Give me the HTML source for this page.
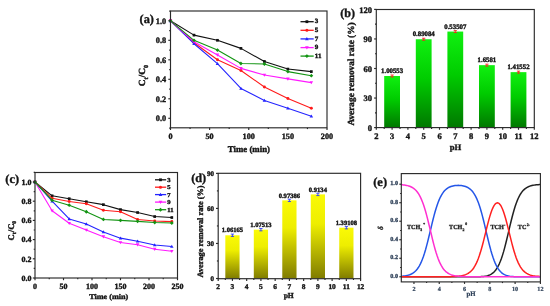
<!DOCTYPE html>
<html><head><meta charset="utf-8"><style>
html,body{margin:0;padding:0;background:#fff;}
svg{display:block;font-family:"Liberation Serif", serif;will-change:transform;text-rendering:geometricPrecision;}
</style></head><body>
<svg width="550" height="306" viewBox="0 0 550 306">
<defs>
<linearGradient id="gG" x1="0" y1="0" x2="0" y2="1"><stop offset="0" stop-color="#10f010"/><stop offset="0.45" stop-color="#00cc00"/><stop offset="1" stop-color="#007800"/></linearGradient>
<linearGradient id="gY" x1="0" y1="0" x2="0" y2="1"><stop offset="0" stop-color="#fafa06"/><stop offset="0.35" stop-color="#eeee00"/><stop offset="1" stop-color="#807c00"/></linearGradient>
</defs>
<rect width="550" height="306" fill="#fff"/>
<polyline points="170.50,20.80 193.97,35.13 217.45,40.30 240.93,48.39 264.40,61.46 287.88,69.06 311.35,71.60" fill="none" stroke="#111" stroke-width="1.1" stroke-linejoin="round"/>
<rect x="169.15" y="19.45" width="2.70" height="2.70" fill="#111"/>
<rect x="192.62" y="33.78" width="2.70" height="2.70" fill="#111"/>
<rect x="216.10" y="38.95" width="2.70" height="2.70" fill="#111"/>
<rect x="239.58" y="47.04" width="2.70" height="2.70" fill="#111"/>
<rect x="263.05" y="60.11" width="2.70" height="2.70" fill="#111"/>
<rect x="286.52" y="67.71" width="2.70" height="2.70" fill="#111"/>
<rect x="310.00" y="70.25" width="2.70" height="2.70" fill="#111"/>
<polyline points="170.50,20.80 193.97,42.74 217.45,59.80 240.93,70.53 264.40,87.00 287.88,98.51 311.35,108.26" fill="none" stroke="#ff1a1a" stroke-width="1.1" stroke-linejoin="round"/>
<circle cx="170.50" cy="20.80" r="1.49" fill="#ff1a1a"/>
<circle cx="193.97" cy="42.74" r="1.49" fill="#ff1a1a"/>
<circle cx="217.45" cy="59.80" r="1.49" fill="#ff1a1a"/>
<circle cx="240.93" cy="70.53" r="1.49" fill="#ff1a1a"/>
<circle cx="264.40" cy="87.00" r="1.49" fill="#ff1a1a"/>
<circle cx="287.88" cy="98.51" r="1.49" fill="#ff1a1a"/>
<circle cx="311.35" cy="108.26" r="1.49" fill="#ff1a1a"/>
<polyline points="170.50,20.80 193.97,43.71 217.45,63.70 240.93,88.47 264.40,100.46 287.88,108.26 311.35,116.16" fill="none" stroke="#2424ff" stroke-width="1.1" stroke-linejoin="round"/>
<polygon points="170.50,19.04 168.75,22.15 172.25,22.15" fill="#2424ff"/>
<polygon points="193.97,41.96 192.22,45.06 195.73,45.06" fill="#2424ff"/>
<polygon points="217.45,61.94 215.69,65.05 219.20,65.05" fill="#2424ff"/>
<polygon points="240.93,86.71 239.17,89.81 242.68,89.81" fill="#2424ff"/>
<polygon points="264.40,98.70 262.64,101.81 266.15,101.81" fill="#2424ff"/>
<polygon points="287.88,106.50 286.12,109.61 289.63,109.61" fill="#2424ff"/>
<polygon points="311.35,114.40 309.60,117.50 313.11,117.50" fill="#2424ff"/>
<polyline points="170.50,20.80 193.97,41.76 217.45,54.92 240.93,68.38 264.40,75.01 287.88,78.91 311.35,82.61" fill="none" stroke="#ff1aff" stroke-width="1.1" stroke-linejoin="round"/>
<polygon points="170.50,22.55 168.75,19.45 172.25,19.45" fill="#ff1aff"/>
<polygon points="193.97,43.52 192.22,40.41 195.73,40.41" fill="#ff1aff"/>
<polygon points="217.45,56.68 215.69,53.57 219.20,53.57" fill="#ff1aff"/>
<polygon points="240.93,70.13 239.17,67.03 242.68,67.03" fill="#ff1aff"/>
<polygon points="264.40,76.76 262.64,73.66 266.15,73.66" fill="#ff1aff"/>
<polygon points="287.88,80.66 286.12,77.56 289.63,77.56" fill="#ff1aff"/>
<polygon points="311.35,84.37 309.60,81.27 313.11,81.27" fill="#ff1aff"/>
<polyline points="170.50,20.80 193.97,40.30 217.45,50.05 240.93,63.50 264.40,63.99 287.88,71.60 311.35,75.69" fill="none" stroke="#129412" stroke-width="1.1" stroke-linejoin="round"/>
<polygon points="170.50,18.91 168.61,20.80 170.50,22.69 172.39,20.80" fill="#129412"/>
<polygon points="193.97,38.41 192.09,40.30 193.97,42.19 195.86,40.30" fill="#129412"/>
<polygon points="217.45,48.16 215.56,50.05 217.45,51.94 219.34,50.05" fill="#129412"/>
<polygon points="240.93,61.61 239.04,63.50 240.93,65.39 242.81,63.50" fill="#129412"/>
<polygon points="264.40,62.10 262.51,63.99 264.40,65.88 266.29,63.99" fill="#129412"/>
<polygon points="287.88,69.71 285.99,71.60 287.88,73.49 289.76,71.60" fill="#129412"/>
<polygon points="311.35,73.80 309.46,75.69 311.35,77.58 313.24,75.69" fill="#129412"/>
<rect x="170.50" y="11.00" width="156.50" height="116.80" fill="none" stroke="#2a2a2a" stroke-width="1.15"/>
<line x1="168.30" y1="118.30" x2="170.50" y2="118.30" stroke="#2a2a2a" stroke-width="1.15" />
<text x="166.20" y="121.20" font-size="8.3" text-anchor="end" fill="#151515" font-weight="bold" stroke="#151515" stroke-width="0.38" >0.0</text>
<line x1="168.30" y1="98.80" x2="170.50" y2="98.80" stroke="#2a2a2a" stroke-width="1.15" />
<text x="166.20" y="101.70" font-size="8.3" text-anchor="end" fill="#151515" font-weight="bold" stroke="#151515" stroke-width="0.38" >0.2</text>
<line x1="168.30" y1="79.30" x2="170.50" y2="79.30" stroke="#2a2a2a" stroke-width="1.15" />
<text x="166.20" y="82.20" font-size="8.3" text-anchor="end" fill="#151515" font-weight="bold" stroke="#151515" stroke-width="0.38" >0.4</text>
<line x1="168.30" y1="59.80" x2="170.50" y2="59.80" stroke="#2a2a2a" stroke-width="1.15" />
<text x="166.20" y="62.70" font-size="8.3" text-anchor="end" fill="#151515" font-weight="bold" stroke="#151515" stroke-width="0.38" >0.6</text>
<line x1="168.30" y1="40.30" x2="170.50" y2="40.30" stroke="#2a2a2a" stroke-width="1.15" />
<text x="166.20" y="43.20" font-size="8.3" text-anchor="end" fill="#151515" font-weight="bold" stroke="#151515" stroke-width="0.38" >0.8</text>
<line x1="168.30" y1="20.80" x2="170.50" y2="20.80" stroke="#2a2a2a" stroke-width="1.15" />
<text x="166.20" y="23.70" font-size="8.3" text-anchor="end" fill="#151515" font-weight="bold" stroke="#151515" stroke-width="0.38" >1.0</text>
<line x1="169.20" y1="128.05" x2="170.50" y2="128.05" stroke="#2a2a2a" stroke-width="1.15" />
<line x1="169.20" y1="108.55" x2="170.50" y2="108.55" stroke="#2a2a2a" stroke-width="1.15" />
<line x1="169.20" y1="89.05" x2="170.50" y2="89.05" stroke="#2a2a2a" stroke-width="1.15" />
<line x1="169.20" y1="69.55" x2="170.50" y2="69.55" stroke="#2a2a2a" stroke-width="1.15" />
<line x1="169.20" y1="50.05" x2="170.50" y2="50.05" stroke="#2a2a2a" stroke-width="1.15" />
<line x1="169.20" y1="30.55" x2="170.50" y2="30.55" stroke="#2a2a2a" stroke-width="1.15" />
<line x1="169.20" y1="11.05" x2="170.50" y2="11.05" stroke="#2a2a2a" stroke-width="1.15" />
<line x1="170.50" y1="127.80" x2="170.50" y2="130.00" stroke="#2a2a2a" stroke-width="1.15" />
<text x="170.50" y="138.80" font-size="8.2" text-anchor="middle" fill="#151515" font-weight="bold" stroke="#151515" stroke-width="0.38" >0</text>
<line x1="209.62" y1="127.80" x2="209.62" y2="130.00" stroke="#2a2a2a" stroke-width="1.15" />
<text x="209.62" y="138.80" font-size="8.2" text-anchor="middle" fill="#151515" font-weight="bold" stroke="#151515" stroke-width="0.38" >50</text>
<line x1="248.75" y1="127.80" x2="248.75" y2="130.00" stroke="#2a2a2a" stroke-width="1.15" />
<text x="248.75" y="138.80" font-size="8.2" text-anchor="middle" fill="#151515" font-weight="bold" stroke="#151515" stroke-width="0.38" >100</text>
<line x1="287.88" y1="127.80" x2="287.88" y2="130.00" stroke="#2a2a2a" stroke-width="1.15" />
<text x="287.88" y="138.80" font-size="8.2" text-anchor="middle" fill="#151515" font-weight="bold" stroke="#151515" stroke-width="0.38" >150</text>
<line x1="327.00" y1="127.80" x2="327.00" y2="130.00" stroke="#2a2a2a" stroke-width="1.15" />
<text x="327.00" y="138.80" font-size="8.2" text-anchor="middle" fill="#151515" font-weight="bold" stroke="#151515" stroke-width="0.38" >200</text>
<line x1="190.06" y1="127.80" x2="190.06" y2="129.10" stroke="#2a2a2a" stroke-width="1.15" />
<line x1="229.19" y1="127.80" x2="229.19" y2="129.10" stroke="#2a2a2a" stroke-width="1.15" />
<line x1="268.31" y1="127.80" x2="268.31" y2="129.10" stroke="#2a2a2a" stroke-width="1.15" />
<line x1="307.44" y1="127.80" x2="307.44" y2="129.10" stroke="#2a2a2a" stroke-width="1.15" />
<text x="139.60" y="22.60" font-size="12.3" text-anchor="start" fill="#151515" font-weight="bold" stroke="#151515" stroke-width="0.35" >(a)</text>
<text x="248.90" y="152.00" font-size="8.8" text-anchor="middle" fill="#151515" font-weight="bold" stroke="#151515" stroke-width="0.38" >Time (min)</text>
<text transform="translate(144.90,75.60) rotate(-90)" font-size="9.4" text-anchor="middle" font-weight="bold" fill="#151515" stroke="#151515" stroke-width="0.38">C<tspan font-size="6.2" dy="2.63">t</tspan><tspan dy="-2.63">/C</tspan><tspan font-size="6.2" dy="2.63">0</tspan></text>
<line x1="300.50" y1="21.70" x2="313.70" y2="21.70" stroke="#111" stroke-width="1.3" />
<rect x="305.50" y="20.30" width="2.80" height="2.80" fill="#111"/>
<g transform="translate(314.80,23.40) scale(1.1,1)"><text x="0" y="0" font-size="6.4" text-anchor="start" fill="#151515" font-weight="bold" stroke="#151515" stroke-width="0.38" >3</text></g>
<line x1="300.50" y1="30.30" x2="313.70" y2="30.30" stroke="#ff1a1a" stroke-width="1.3" />
<circle cx="306.90" cy="30.30" r="1.54" fill="#ff1a1a"/>
<g transform="translate(314.80,32.00) scale(1.1,1)"><text x="0" y="0" font-size="6.4" text-anchor="start" fill="#151515" font-weight="bold" stroke="#151515" stroke-width="0.38" >5</text></g>
<line x1="300.50" y1="38.90" x2="313.70" y2="38.90" stroke="#2424ff" stroke-width="1.3" />
<polygon points="306.90,37.08 305.08,40.30 308.72,40.30" fill="#2424ff"/>
<g transform="translate(314.80,40.60) scale(1.1,1)"><text x="0" y="0" font-size="6.4" text-anchor="start" fill="#151515" font-weight="bold" stroke="#151515" stroke-width="0.38" >7</text></g>
<line x1="300.50" y1="47.60" x2="313.70" y2="47.60" stroke="#ff1aff" stroke-width="1.3" />
<polygon points="306.90,49.42 305.08,46.20 308.72,46.20" fill="#ff1aff"/>
<g transform="translate(314.80,49.30) scale(1.1,1)"><text x="0" y="0" font-size="6.4" text-anchor="start" fill="#151515" font-weight="bold" stroke="#151515" stroke-width="0.38" >9</text></g>
<line x1="300.50" y1="56.10" x2="313.70" y2="56.10" stroke="#129412" stroke-width="1.3" />
<polygon points="306.90,54.14 304.94,56.10 306.90,58.06 308.86,56.10" fill="#129412"/>
<g transform="translate(314.80,57.80) scale(1.1,1)"><text x="0" y="0" font-size="6.4" text-anchor="start" fill="#151515" font-weight="bold" stroke="#151515" stroke-width="0.38" >11</text></g>
<polyline points="35.00,182.00 52.10,195.82 69.20,198.70 86.30,201.78 103.40,204.66 120.50,209.60 137.60,212.53 154.70,216.56 171.80,217.52" fill="none" stroke="#111" stroke-width="1.1" stroke-linejoin="round"/>
<rect x="33.65" y="180.65" width="2.70" height="2.70" fill="#111"/>
<rect x="50.75" y="194.47" width="2.70" height="2.70" fill="#111"/>
<rect x="67.85" y="197.35" width="2.70" height="2.70" fill="#111"/>
<rect x="84.95" y="200.43" width="2.70" height="2.70" fill="#111"/>
<rect x="102.05" y="203.31" width="2.70" height="2.70" fill="#111"/>
<rect x="119.15" y="208.25" width="2.70" height="2.70" fill="#111"/>
<rect x="136.25" y="211.18" width="2.70" height="2.70" fill="#111"/>
<rect x="153.35" y="215.21" width="2.70" height="2.70" fill="#111"/>
<rect x="170.45" y="216.17" width="2.70" height="2.70" fill="#111"/>
<polyline points="35.00,182.00 52.10,198.32 69.20,201.49 86.30,203.70 103.40,210.22 120.50,211.76 137.60,219.44 154.70,220.98 171.80,221.60" fill="none" stroke="#ff1a1a" stroke-width="1.1" stroke-linejoin="round"/>
<circle cx="35.00" cy="182.00" r="1.49" fill="#ff1a1a"/>
<circle cx="52.10" cy="198.32" r="1.49" fill="#ff1a1a"/>
<circle cx="69.20" cy="201.49" r="1.49" fill="#ff1a1a"/>
<circle cx="86.30" cy="203.70" r="1.49" fill="#ff1a1a"/>
<circle cx="103.40" cy="210.22" r="1.49" fill="#ff1a1a"/>
<circle cx="120.50" cy="211.76" r="1.49" fill="#ff1a1a"/>
<circle cx="137.60" cy="219.44" r="1.49" fill="#ff1a1a"/>
<circle cx="154.70" cy="220.98" r="1.49" fill="#ff1a1a"/>
<circle cx="171.80" cy="221.60" r="1.49" fill="#ff1a1a"/>
<polyline points="35.00,182.00 52.10,201.20 69.20,218.96 86.30,224.00 103.40,231.92 120.50,238.16 137.60,241.23 154.70,244.98 171.80,246.51" fill="none" stroke="#2424ff" stroke-width="1.1" stroke-linejoin="round"/>
<polygon points="35.00,180.25 33.24,183.35 36.76,183.35" fill="#2424ff"/>
<polygon points="52.10,199.44 50.34,202.55 53.86,202.55" fill="#2424ff"/>
<polygon points="69.20,217.21 67.45,220.31 70.95,220.31" fill="#2424ff"/>
<polygon points="86.30,222.25 84.55,225.35 88.05,225.35" fill="#2424ff"/>
<polygon points="103.40,230.17 101.65,233.27 105.16,233.27" fill="#2424ff"/>
<polygon points="120.50,236.41 118.75,239.51 122.25,239.51" fill="#2424ff"/>
<polygon points="137.60,239.48 135.84,242.58 139.35,242.58" fill="#2424ff"/>
<polygon points="154.70,243.22 152.94,246.33 156.45,246.33" fill="#2424ff"/>
<polygon points="171.80,244.76 170.05,247.86 173.56,247.86" fill="#2424ff"/>
<polyline points="35.00,182.00 52.10,210.80 69.20,223.28 86.30,230.00 103.40,236.72 120.50,242.48 137.60,244.69 154.70,249.20 171.80,251.31" fill="none" stroke="#ff1aff" stroke-width="1.1" stroke-linejoin="round"/>
<polygon points="35.00,183.75 33.24,180.65 36.76,180.65" fill="#ff1aff"/>
<polygon points="52.10,212.56 50.34,209.45 53.86,209.45" fill="#ff1aff"/>
<polygon points="69.20,225.03 67.45,221.93 70.95,221.93" fill="#ff1aff"/>
<polygon points="86.30,231.75 84.55,228.65 88.05,228.65" fill="#ff1aff"/>
<polygon points="103.40,238.47 101.65,235.37 105.16,235.37" fill="#ff1aff"/>
<polygon points="120.50,244.24 118.75,241.13 122.25,241.13" fill="#ff1aff"/>
<polygon points="137.60,246.44 135.84,243.34 139.35,243.34" fill="#ff1aff"/>
<polygon points="154.70,250.95 152.94,247.85 156.45,247.85" fill="#ff1aff"/>
<polygon points="171.80,253.07 170.05,249.96 173.56,249.96" fill="#ff1aff"/>
<polyline points="35.00,182.00 52.10,200.24 69.20,205.23 86.30,211.76 103.40,219.44 120.50,220.40 137.60,221.36 154.70,222.51 171.80,222.99" fill="none" stroke="#129412" stroke-width="1.1" stroke-linejoin="round"/>
<polygon points="35.00,180.11 33.11,182.00 35.00,183.89 36.89,182.00" fill="#129412"/>
<polygon points="52.10,198.35 50.21,200.24 52.10,202.13 53.99,200.24" fill="#129412"/>
<polygon points="69.20,203.34 67.31,205.23 69.20,207.12 71.09,205.23" fill="#129412"/>
<polygon points="86.30,209.87 84.41,211.76 86.30,213.65 88.19,211.76" fill="#129412"/>
<polygon points="103.40,217.55 101.51,219.44 103.40,221.33 105.29,219.44" fill="#129412"/>
<polygon points="120.50,218.51 118.61,220.40 120.50,222.29 122.39,220.40" fill="#129412"/>
<polygon points="137.60,219.47 135.71,221.36 137.60,223.25 139.49,221.36" fill="#129412"/>
<polygon points="154.70,220.62 152.81,222.51 154.70,224.40 156.59,222.51" fill="#129412"/>
<polygon points="171.80,221.10 169.91,222.99 171.80,224.88 173.69,222.99" fill="#129412"/>
<rect x="35.00" y="172.50" width="142.50" height="105.50" fill="none" stroke="#2a2a2a" stroke-width="1.15"/>
<line x1="32.80" y1="278.00" x2="35.00" y2="278.00" stroke="#2a2a2a" stroke-width="1.15" />
<text x="31.40" y="280.80" font-size="8.0" text-anchor="end" fill="#151515" font-weight="bold" stroke="#151515" stroke-width="0.38" >0.0</text>
<line x1="32.80" y1="258.80" x2="35.00" y2="258.80" stroke="#2a2a2a" stroke-width="1.15" />
<text x="31.40" y="261.60" font-size="8.0" text-anchor="end" fill="#151515" font-weight="bold" stroke="#151515" stroke-width="0.38" >0.2</text>
<line x1="32.80" y1="239.60" x2="35.00" y2="239.60" stroke="#2a2a2a" stroke-width="1.15" />
<text x="31.40" y="242.40" font-size="8.0" text-anchor="end" fill="#151515" font-weight="bold" stroke="#151515" stroke-width="0.38" >0.4</text>
<line x1="32.80" y1="220.40" x2="35.00" y2="220.40" stroke="#2a2a2a" stroke-width="1.15" />
<text x="31.40" y="223.20" font-size="8.0" text-anchor="end" fill="#151515" font-weight="bold" stroke="#151515" stroke-width="0.38" >0.6</text>
<line x1="32.80" y1="201.20" x2="35.00" y2="201.20" stroke="#2a2a2a" stroke-width="1.15" />
<text x="31.40" y="204.00" font-size="8.0" text-anchor="end" fill="#151515" font-weight="bold" stroke="#151515" stroke-width="0.38" >0.8</text>
<line x1="32.80" y1="182.00" x2="35.00" y2="182.00" stroke="#2a2a2a" stroke-width="1.15" />
<text x="31.40" y="184.80" font-size="8.0" text-anchor="end" fill="#151515" font-weight="bold" stroke="#151515" stroke-width="0.38" >1.0</text>
<line x1="33.70" y1="268.40" x2="35.00" y2="268.40" stroke="#2a2a2a" stroke-width="1.15" />
<line x1="33.70" y1="249.20" x2="35.00" y2="249.20" stroke="#2a2a2a" stroke-width="1.15" />
<line x1="33.70" y1="230.00" x2="35.00" y2="230.00" stroke="#2a2a2a" stroke-width="1.15" />
<line x1="33.70" y1="210.80" x2="35.00" y2="210.80" stroke="#2a2a2a" stroke-width="1.15" />
<line x1="33.70" y1="191.60" x2="35.00" y2="191.60" stroke="#2a2a2a" stroke-width="1.15" />
<line x1="33.70" y1="172.40" x2="35.00" y2="172.40" stroke="#2a2a2a" stroke-width="1.15" />
<line x1="35.00" y1="278.00" x2="35.00" y2="280.20" stroke="#2a2a2a" stroke-width="1.15" />
<text x="35.00" y="288.70" font-size="8.0" text-anchor="middle" fill="#151515" font-weight="bold" stroke="#151515" stroke-width="0.38" >0</text>
<line x1="63.50" y1="278.00" x2="63.50" y2="280.20" stroke="#2a2a2a" stroke-width="1.15" />
<text x="63.50" y="288.70" font-size="8.0" text-anchor="middle" fill="#151515" font-weight="bold" stroke="#151515" stroke-width="0.38" >50</text>
<line x1="92.00" y1="278.00" x2="92.00" y2="280.20" stroke="#2a2a2a" stroke-width="1.15" />
<text x="92.00" y="288.70" font-size="8.0" text-anchor="middle" fill="#151515" font-weight="bold" stroke="#151515" stroke-width="0.38" >100</text>
<line x1="120.50" y1="278.00" x2="120.50" y2="280.20" stroke="#2a2a2a" stroke-width="1.15" />
<text x="120.50" y="288.70" font-size="8.0" text-anchor="middle" fill="#151515" font-weight="bold" stroke="#151515" stroke-width="0.38" >150</text>
<line x1="149.00" y1="278.00" x2="149.00" y2="280.20" stroke="#2a2a2a" stroke-width="1.15" />
<text x="149.00" y="288.70" font-size="8.0" text-anchor="middle" fill="#151515" font-weight="bold" stroke="#151515" stroke-width="0.38" >200</text>
<line x1="177.50" y1="278.00" x2="177.50" y2="280.20" stroke="#2a2a2a" stroke-width="1.15" />
<text x="177.50" y="288.70" font-size="8.0" text-anchor="middle" fill="#151515" font-weight="bold" stroke="#151515" stroke-width="0.38" >250</text>
<line x1="49.25" y1="278.00" x2="49.25" y2="279.30" stroke="#2a2a2a" stroke-width="1.15" />
<line x1="77.75" y1="278.00" x2="77.75" y2="279.30" stroke="#2a2a2a" stroke-width="1.15" />
<line x1="106.25" y1="278.00" x2="106.25" y2="279.30" stroke="#2a2a2a" stroke-width="1.15" />
<line x1="134.75" y1="278.00" x2="134.75" y2="279.30" stroke="#2a2a2a" stroke-width="1.15" />
<line x1="163.25" y1="278.00" x2="163.25" y2="279.30" stroke="#2a2a2a" stroke-width="1.15" />
<text x="5.30" y="182.60" font-size="12.4" text-anchor="start" fill="#151515" font-weight="bold" stroke="#151515" stroke-width="0.35" >(c)</text>
<g transform="translate(108.70,298.70) scale(1.12,1)"><text x="0" y="0" font-size="7.3" text-anchor="middle" fill="#151515" font-weight="bold" stroke="#151515" stroke-width="0.38" >Time (min)</text></g>
<text transform="translate(13.80,230.60) rotate(-90)" font-size="8.6" text-anchor="middle" font-weight="bold" fill="#151515" stroke="#151515" stroke-width="0.38">C<tspan font-size="5.7" dy="2.41">t</tspan><tspan dy="-2.41">/C</tspan><tspan font-size="5.7" dy="2.41">0</tspan></text>
<line x1="155.00" y1="179.80" x2="166.20" y2="179.80" stroke="#111" stroke-width="1.3" />
<rect x="159.10" y="178.40" width="2.80" height="2.80" fill="#111"/>
<g transform="translate(167.30,181.80) scale(1.1,1)"><text x="0" y="0" font-size="6.0" text-anchor="start" fill="#151515" font-weight="bold" stroke="#151515" stroke-width="0.38" >3</text></g>
<line x1="155.00" y1="187.20" x2="166.20" y2="187.20" stroke="#ff1a1a" stroke-width="1.3" />
<circle cx="160.50" cy="187.20" r="1.54" fill="#ff1a1a"/>
<g transform="translate(167.30,189.20) scale(1.1,1)"><text x="0" y="0" font-size="6.0" text-anchor="start" fill="#151515" font-weight="bold" stroke="#151515" stroke-width="0.38" >5</text></g>
<line x1="155.00" y1="194.60" x2="166.20" y2="194.60" stroke="#2424ff" stroke-width="1.3" />
<polygon points="160.50,192.78 158.68,196.00 162.32,196.00" fill="#2424ff"/>
<g transform="translate(167.30,196.60) scale(1.1,1)"><text x="0" y="0" font-size="6.0" text-anchor="start" fill="#151515" font-weight="bold" stroke="#151515" stroke-width="0.38" >7</text></g>
<line x1="155.00" y1="202.10" x2="166.20" y2="202.10" stroke="#ff1aff" stroke-width="1.3" />
<polygon points="160.50,203.92 158.68,200.70 162.32,200.70" fill="#ff1aff"/>
<g transform="translate(167.30,204.10) scale(1.1,1)"><text x="0" y="0" font-size="6.0" text-anchor="start" fill="#151515" font-weight="bold" stroke="#151515" stroke-width="0.38" >9</text></g>
<line x1="155.00" y1="209.70" x2="166.20" y2="209.70" stroke="#129412" stroke-width="1.3" />
<polygon points="160.50,207.74 158.54,209.70 160.50,211.66 162.46,209.70" fill="#129412"/>
<g transform="translate(167.30,211.70) scale(1.1,1)"><text x="0" y="0" font-size="6.0" text-anchor="start" fill="#151515" font-weight="bold" stroke="#151515" stroke-width="0.38" >11</text></g>
<rect x="384.20" y="75.99" width="15.80" height="51.61" fill="url(#gG)"/>
<rect x="415.80" y="39.25" width="15.80" height="88.35" fill="url(#gG)"/>
<rect x="447.40" y="31.56" width="15.80" height="96.04" fill="url(#gG)"/>
<rect x="479.00" y="65.15" width="15.80" height="62.45" fill="url(#gG)"/>
<rect x="510.60" y="72.14" width="15.80" height="55.46" fill="url(#gG)"/>
<line x1="392.10" y1="75.00" x2="392.10" y2="76.97" stroke="#ff2020" stroke-width="0.9" />
<line x1="390.50" y1="75.00" x2="393.70" y2="75.00" stroke="#ff2020" stroke-width="0.9" />
<line x1="390.50" y1="76.97" x2="393.70" y2="76.97" stroke="#ff2020" stroke-width="0.9" />
<text x="392.10" y="73.19" font-size="6.8" text-anchor="middle" fill="#151515" font-weight="bold" stroke="#151515" stroke-width="0.38" >1.00553</text>
<line x1="423.70" y1="38.26" x2="423.70" y2="40.23" stroke="#ff2020" stroke-width="0.9" />
<line x1="422.10" y1="38.26" x2="425.30" y2="38.26" stroke="#ff2020" stroke-width="0.9" />
<line x1="422.10" y1="40.23" x2="425.30" y2="40.23" stroke="#ff2020" stroke-width="0.9" />
<text x="423.70" y="36.45" font-size="6.8" text-anchor="middle" fill="#151515" font-weight="bold" stroke="#151515" stroke-width="0.38" >0.89084</text>
<line x1="455.30" y1="30.58" x2="455.30" y2="32.55" stroke="#ff2020" stroke-width="0.9" />
<line x1="453.70" y1="30.58" x2="456.90" y2="30.58" stroke="#ff2020" stroke-width="0.9" />
<line x1="453.70" y1="32.55" x2="456.90" y2="32.55" stroke="#ff2020" stroke-width="0.9" />
<text x="455.30" y="28.76" font-size="6.8" text-anchor="middle" fill="#151515" font-weight="bold" stroke="#151515" stroke-width="0.38" >0.53507</text>
<line x1="486.90" y1="64.17" x2="486.90" y2="66.14" stroke="#ff2020" stroke-width="0.9" />
<line x1="485.30" y1="64.17" x2="488.50" y2="64.17" stroke="#ff2020" stroke-width="0.9" />
<line x1="485.30" y1="66.14" x2="488.50" y2="66.14" stroke="#ff2020" stroke-width="0.9" />
<text x="486.90" y="62.35" font-size="6.8" text-anchor="middle" fill="#151515" font-weight="bold" stroke="#151515" stroke-width="0.38" >1.6581</text>
<line x1="518.50" y1="71.16" x2="518.50" y2="73.13" stroke="#ff2020" stroke-width="0.9" />
<line x1="516.90" y1="71.16" x2="520.10" y2="71.16" stroke="#ff2020" stroke-width="0.9" />
<line x1="516.90" y1="73.13" x2="520.10" y2="73.13" stroke="#ff2020" stroke-width="0.9" />
<text x="518.50" y="69.34" font-size="6.8" text-anchor="middle" fill="#151515" font-weight="bold" stroke="#151515" stroke-width="0.38" >1.41552</text>
<rect x="376.30" y="9.50" width="158.00" height="118.10" fill="none" stroke="#2a2a2a" stroke-width="1.15"/>
<line x1="374.10" y1="127.60" x2="376.30" y2="127.60" stroke="#2a2a2a" stroke-width="1.15" />
<text x="372.10" y="130.90" font-size="8.5" text-anchor="end" fill="#151515" font-weight="bold" stroke="#151515" stroke-width="0.38" >0</text>
<line x1="375.00" y1="112.82" x2="376.30" y2="112.82" stroke="#2a2a2a" stroke-width="1.15" />
<line x1="374.10" y1="98.05" x2="376.30" y2="98.05" stroke="#2a2a2a" stroke-width="1.15" />
<text x="372.10" y="101.35" font-size="8.5" text-anchor="end" fill="#151515" font-weight="bold" stroke="#151515" stroke-width="0.38" >30</text>
<line x1="375.00" y1="83.27" x2="376.30" y2="83.27" stroke="#2a2a2a" stroke-width="1.15" />
<line x1="374.10" y1="68.50" x2="376.30" y2="68.50" stroke="#2a2a2a" stroke-width="1.15" />
<text x="372.10" y="71.80" font-size="8.5" text-anchor="end" fill="#151515" font-weight="bold" stroke="#151515" stroke-width="0.38" >60</text>
<line x1="375.00" y1="53.72" x2="376.30" y2="53.72" stroke="#2a2a2a" stroke-width="1.15" />
<line x1="374.10" y1="38.95" x2="376.30" y2="38.95" stroke="#2a2a2a" stroke-width="1.15" />
<text x="372.10" y="42.25" font-size="8.5" text-anchor="end" fill="#151515" font-weight="bold" stroke="#151515" stroke-width="0.38" >90</text>
<line x1="375.00" y1="24.17" x2="376.30" y2="24.17" stroke="#2a2a2a" stroke-width="1.15" />
<line x1="374.10" y1="9.40" x2="376.30" y2="9.40" stroke="#2a2a2a" stroke-width="1.15" />
<text x="372.10" y="12.70" font-size="8.5" text-anchor="end" fill="#151515" font-weight="bold" stroke="#151515" stroke-width="0.38" >120</text>
<line x1="376.30" y1="127.60" x2="376.30" y2="129.80" stroke="#2a2a2a" stroke-width="1.15" />
<text x="376.30" y="138.80" font-size="8.5" text-anchor="middle" fill="#151515" font-weight="bold" stroke="#151515" stroke-width="0.38" >2</text>
<line x1="384.20" y1="127.60" x2="384.20" y2="128.90" stroke="#2a2a2a" stroke-width="1.15" />
<line x1="392.10" y1="127.60" x2="392.10" y2="129.80" stroke="#2a2a2a" stroke-width="1.15" />
<text x="392.10" y="138.80" font-size="8.5" text-anchor="middle" fill="#151515" font-weight="bold" stroke="#151515" stroke-width="0.38" >3</text>
<line x1="400.00" y1="127.60" x2="400.00" y2="128.90" stroke="#2a2a2a" stroke-width="1.15" />
<line x1="407.90" y1="127.60" x2="407.90" y2="129.80" stroke="#2a2a2a" stroke-width="1.15" />
<text x="407.90" y="138.80" font-size="8.5" text-anchor="middle" fill="#151515" font-weight="bold" stroke="#151515" stroke-width="0.38" >4</text>
<line x1="415.80" y1="127.60" x2="415.80" y2="128.90" stroke="#2a2a2a" stroke-width="1.15" />
<line x1="423.70" y1="127.60" x2="423.70" y2="129.80" stroke="#2a2a2a" stroke-width="1.15" />
<text x="423.70" y="138.80" font-size="8.5" text-anchor="middle" fill="#151515" font-weight="bold" stroke="#151515" stroke-width="0.38" >5</text>
<line x1="431.60" y1="127.60" x2="431.60" y2="128.90" stroke="#2a2a2a" stroke-width="1.15" />
<line x1="439.50" y1="127.60" x2="439.50" y2="129.80" stroke="#2a2a2a" stroke-width="1.15" />
<text x="439.50" y="138.80" font-size="8.5" text-anchor="middle" fill="#151515" font-weight="bold" stroke="#151515" stroke-width="0.38" >6</text>
<line x1="447.40" y1="127.60" x2="447.40" y2="128.90" stroke="#2a2a2a" stroke-width="1.15" />
<line x1="455.30" y1="127.60" x2="455.30" y2="129.80" stroke="#2a2a2a" stroke-width="1.15" />
<text x="455.30" y="138.80" font-size="8.5" text-anchor="middle" fill="#151515" font-weight="bold" stroke="#151515" stroke-width="0.38" >7</text>
<line x1="463.20" y1="127.60" x2="463.20" y2="128.90" stroke="#2a2a2a" stroke-width="1.15" />
<line x1="471.10" y1="127.60" x2="471.10" y2="129.80" stroke="#2a2a2a" stroke-width="1.15" />
<text x="471.10" y="138.80" font-size="8.5" text-anchor="middle" fill="#151515" font-weight="bold" stroke="#151515" stroke-width="0.38" >8</text>
<line x1="479.00" y1="127.60" x2="479.00" y2="128.90" stroke="#2a2a2a" stroke-width="1.15" />
<line x1="486.90" y1="127.60" x2="486.90" y2="129.80" stroke="#2a2a2a" stroke-width="1.15" />
<text x="486.90" y="138.80" font-size="8.5" text-anchor="middle" fill="#151515" font-weight="bold" stroke="#151515" stroke-width="0.38" >9</text>
<line x1="494.80" y1="127.60" x2="494.80" y2="128.90" stroke="#2a2a2a" stroke-width="1.15" />
<line x1="502.70" y1="127.60" x2="502.70" y2="129.80" stroke="#2a2a2a" stroke-width="1.15" />
<text x="502.70" y="138.80" font-size="8.5" text-anchor="middle" fill="#151515" font-weight="bold" stroke="#151515" stroke-width="0.38" >10</text>
<line x1="510.60" y1="127.60" x2="510.60" y2="128.90" stroke="#2a2a2a" stroke-width="1.15" />
<line x1="518.50" y1="127.60" x2="518.50" y2="129.80" stroke="#2a2a2a" stroke-width="1.15" />
<text x="518.50" y="138.80" font-size="8.5" text-anchor="middle" fill="#151515" font-weight="bold" stroke="#151515" stroke-width="0.38" >11</text>
<line x1="526.40" y1="127.60" x2="526.40" y2="128.90" stroke="#2a2a2a" stroke-width="1.15" />
<line x1="534.30" y1="127.60" x2="534.30" y2="129.80" stroke="#2a2a2a" stroke-width="1.15" />
<text x="534.30" y="138.80" font-size="8.5" text-anchor="middle" fill="#151515" font-weight="bold" stroke="#151515" stroke-width="0.38" >12</text>
<text x="340.20" y="16.90" font-size="12.1" text-anchor="start" fill="#151515" font-weight="bold" stroke="#151515" stroke-width="0.35" >(b)</text>
<text x="455.50" y="150.20" font-size="8.6" text-anchor="middle" fill="#151515" font-weight="bold" stroke="#151515" stroke-width="0.38" >pH</text>
<text transform="translate(354.00,74.00) rotate(-90)" font-size="9.3" text-anchor="middle" font-weight="bold" fill="#151515" stroke="#151515" stroke-width="0.38">Average removal rate (%)</text>
<rect x="225.32" y="235.28" width="14.24" height="43.22" fill="url(#gY)"/>
<rect x="253.80" y="229.68" width="14.24" height="48.82" fill="url(#gY)"/>
<rect x="282.28" y="200.36" width="14.24" height="78.14" fill="url(#gY)"/>
<rect x="310.76" y="194.40" width="14.24" height="84.10" fill="url(#gY)"/>
<rect x="339.24" y="227.69" width="14.24" height="50.81" fill="url(#gY)"/>
<line x1="232.44" y1="234.12" x2="232.44" y2="236.45" stroke="#3040ff" stroke-width="0.9" />
<line x1="230.84" y1="234.12" x2="234.04" y2="234.12" stroke="#3040ff" stroke-width="0.9" />
<line x1="230.84" y1="236.45" x2="234.04" y2="236.45" stroke="#3040ff" stroke-width="0.9" />
<text x="232.44" y="232.48" font-size="6.6" text-anchor="middle" fill="#151515" font-weight="bold" stroke="#151515" stroke-width="0.38" >1.06165</text>
<line x1="260.92" y1="228.51" x2="260.92" y2="230.85" stroke="#3040ff" stroke-width="0.9" />
<line x1="259.32" y1="228.51" x2="262.52" y2="228.51" stroke="#3040ff" stroke-width="0.9" />
<line x1="259.32" y1="230.85" x2="262.52" y2="230.85" stroke="#3040ff" stroke-width="0.9" />
<text x="260.92" y="226.88" font-size="6.6" text-anchor="middle" fill="#151515" font-weight="bold" stroke="#151515" stroke-width="0.38" >1.07513</text>
<line x1="289.40" y1="199.19" x2="289.40" y2="201.53" stroke="#3040ff" stroke-width="0.9" />
<line x1="287.80" y1="199.19" x2="291.00" y2="199.19" stroke="#3040ff" stroke-width="0.9" />
<line x1="287.80" y1="201.53" x2="291.00" y2="201.53" stroke="#3040ff" stroke-width="0.9" />
<text x="289.40" y="197.56" font-size="6.6" text-anchor="middle" fill="#151515" font-weight="bold" stroke="#151515" stroke-width="0.38" >0.97386</text>
<line x1="317.88" y1="193.24" x2="317.88" y2="195.57" stroke="#3040ff" stroke-width="0.9" />
<line x1="316.28" y1="193.24" x2="319.48" y2="193.24" stroke="#3040ff" stroke-width="0.9" />
<line x1="316.28" y1="195.57" x2="319.48" y2="195.57" stroke="#3040ff" stroke-width="0.9" />
<text x="317.88" y="191.60" font-size="6.6" text-anchor="middle" fill="#151515" font-weight="bold" stroke="#151515" stroke-width="0.38" >0.9134</text>
<line x1="346.36" y1="226.52" x2="346.36" y2="228.86" stroke="#3040ff" stroke-width="0.9" />
<line x1="344.76" y1="226.52" x2="347.96" y2="226.52" stroke="#3040ff" stroke-width="0.9" />
<line x1="344.76" y1="228.86" x2="347.96" y2="228.86" stroke="#3040ff" stroke-width="0.9" />
<text x="346.36" y="224.89" font-size="6.6" text-anchor="middle" fill="#151515" font-weight="bold" stroke="#151515" stroke-width="0.38" >1.39108</text>
<rect x="218.20" y="173.30" width="142.40" height="105.40" fill="none" stroke="#2a2a2a" stroke-width="1.15"/>
<line x1="216.00" y1="278.50" x2="218.20" y2="278.50" stroke="#2a2a2a" stroke-width="1.15" />
<text x="214.10" y="281.00" font-size="7.0" text-anchor="end" fill="#151515" font-weight="bold" stroke="#151515" stroke-width="0.38" >0</text>
<line x1="216.90" y1="260.98" x2="218.20" y2="260.98" stroke="#2a2a2a" stroke-width="1.15" />
<line x1="216.00" y1="243.46" x2="218.20" y2="243.46" stroke="#2a2a2a" stroke-width="1.15" />
<text x="214.10" y="245.96" font-size="7.0" text-anchor="end" fill="#151515" font-weight="bold" stroke="#151515" stroke-width="0.38" >30</text>
<line x1="216.90" y1="225.94" x2="218.20" y2="225.94" stroke="#2a2a2a" stroke-width="1.15" />
<line x1="216.00" y1="208.42" x2="218.20" y2="208.42" stroke="#2a2a2a" stroke-width="1.15" />
<text x="214.10" y="210.92" font-size="7.0" text-anchor="end" fill="#151515" font-weight="bold" stroke="#151515" stroke-width="0.38" >60</text>
<line x1="216.90" y1="190.90" x2="218.20" y2="190.90" stroke="#2a2a2a" stroke-width="1.15" />
<line x1="216.00" y1="173.38" x2="218.20" y2="173.38" stroke="#2a2a2a" stroke-width="1.15" />
<text x="214.10" y="175.88" font-size="7.0" text-anchor="end" fill="#151515" font-weight="bold" stroke="#151515" stroke-width="0.38" >90</text>
<line x1="218.20" y1="278.70" x2="218.20" y2="280.90" stroke="#2a2a2a" stroke-width="1.15" />
<text x="218.20" y="288.80" font-size="7.4" text-anchor="middle" fill="#151515" font-weight="bold" stroke="#151515" stroke-width="0.38" >2</text>
<line x1="225.32" y1="278.70" x2="225.32" y2="280.00" stroke="#2a2a2a" stroke-width="1.15" />
<line x1="232.44" y1="278.70" x2="232.44" y2="280.90" stroke="#2a2a2a" stroke-width="1.15" />
<text x="232.44" y="288.80" font-size="7.4" text-anchor="middle" fill="#151515" font-weight="bold" stroke="#151515" stroke-width="0.38" >3</text>
<line x1="239.56" y1="278.70" x2="239.56" y2="280.00" stroke="#2a2a2a" stroke-width="1.15" />
<line x1="246.68" y1="278.70" x2="246.68" y2="280.90" stroke="#2a2a2a" stroke-width="1.15" />
<text x="246.68" y="288.80" font-size="7.4" text-anchor="middle" fill="#151515" font-weight="bold" stroke="#151515" stroke-width="0.38" >4</text>
<line x1="253.80" y1="278.70" x2="253.80" y2="280.00" stroke="#2a2a2a" stroke-width="1.15" />
<line x1="260.92" y1="278.70" x2="260.92" y2="280.90" stroke="#2a2a2a" stroke-width="1.15" />
<text x="260.92" y="288.80" font-size="7.4" text-anchor="middle" fill="#151515" font-weight="bold" stroke="#151515" stroke-width="0.38" >5</text>
<line x1="268.04" y1="278.70" x2="268.04" y2="280.00" stroke="#2a2a2a" stroke-width="1.15" />
<line x1="275.16" y1="278.70" x2="275.16" y2="280.90" stroke="#2a2a2a" stroke-width="1.15" />
<text x="275.16" y="288.80" font-size="7.4" text-anchor="middle" fill="#151515" font-weight="bold" stroke="#151515" stroke-width="0.38" >6</text>
<line x1="282.28" y1="278.70" x2="282.28" y2="280.00" stroke="#2a2a2a" stroke-width="1.15" />
<line x1="289.40" y1="278.70" x2="289.40" y2="280.90" stroke="#2a2a2a" stroke-width="1.15" />
<text x="289.40" y="288.80" font-size="7.4" text-anchor="middle" fill="#151515" font-weight="bold" stroke="#151515" stroke-width="0.38" >7</text>
<line x1="296.52" y1="278.70" x2="296.52" y2="280.00" stroke="#2a2a2a" stroke-width="1.15" />
<line x1="303.64" y1="278.70" x2="303.64" y2="280.90" stroke="#2a2a2a" stroke-width="1.15" />
<text x="303.64" y="288.80" font-size="7.4" text-anchor="middle" fill="#151515" font-weight="bold" stroke="#151515" stroke-width="0.38" >8</text>
<line x1="310.76" y1="278.70" x2="310.76" y2="280.00" stroke="#2a2a2a" stroke-width="1.15" />
<line x1="317.88" y1="278.70" x2="317.88" y2="280.90" stroke="#2a2a2a" stroke-width="1.15" />
<text x="317.88" y="288.80" font-size="7.4" text-anchor="middle" fill="#151515" font-weight="bold" stroke="#151515" stroke-width="0.38" >9</text>
<line x1="325.00" y1="278.70" x2="325.00" y2="280.00" stroke="#2a2a2a" stroke-width="1.15" />
<line x1="332.12" y1="278.70" x2="332.12" y2="280.90" stroke="#2a2a2a" stroke-width="1.15" />
<text x="332.12" y="288.80" font-size="7.4" text-anchor="middle" fill="#151515" font-weight="bold" stroke="#151515" stroke-width="0.38" >10</text>
<line x1="339.24" y1="278.70" x2="339.24" y2="280.00" stroke="#2a2a2a" stroke-width="1.15" />
<line x1="346.36" y1="278.70" x2="346.36" y2="280.90" stroke="#2a2a2a" stroke-width="1.15" />
<text x="346.36" y="288.80" font-size="7.4" text-anchor="middle" fill="#151515" font-weight="bold" stroke="#151515" stroke-width="0.38" >11</text>
<line x1="353.48" y1="278.70" x2="353.48" y2="280.00" stroke="#2a2a2a" stroke-width="1.15" />
<line x1="360.60" y1="278.70" x2="360.60" y2="280.90" stroke="#2a2a2a" stroke-width="1.15" />
<text x="360.60" y="288.80" font-size="7.4" text-anchor="middle" fill="#151515" font-weight="bold" stroke="#151515" stroke-width="0.38" >12</text>
<text x="191.20" y="181.50" font-size="12.3" text-anchor="start" fill="#151515" font-weight="bold" stroke="#151515" stroke-width="0.35" >(d)</text>
<text x="288.70" y="297.50" font-size="7.6" text-anchor="middle" fill="#151515" font-weight="bold" stroke="#151515" stroke-width="0.38" >pH</text>
<text transform="translate(203.10,231.40) rotate(-90)" font-size="8.3" text-anchor="middle" font-weight="bold" fill="#151515" stroke="#151515" stroke-width="0.38">Average removal rate (%)</text>
<polyline points="401.30,276.80 402.35,276.80 403.41,276.80 404.46,276.80 405.52,276.80 406.57,276.80 407.62,276.80 408.68,276.80 409.73,276.80 410.78,276.80 411.84,276.80 412.89,276.80 413.95,276.80 415.00,276.80 416.05,276.80 417.11,276.80 418.16,276.80 419.21,276.80 420.27,276.80 421.32,276.80 422.38,276.80 423.43,276.80 424.48,276.80 425.54,276.80 426.59,276.80 427.64,276.80 428.70,276.80 429.75,276.80 430.81,276.80 431.86,276.80 432.91,276.80 433.97,276.80 435.02,276.80 436.07,276.80 437.13,276.80 438.18,276.80 439.24,276.80 440.29,276.80 441.34,276.80 442.40,276.80 443.45,276.80 444.51,276.80 445.56,276.80 446.61,276.80 447.67,276.80 448.72,276.80 449.77,276.80 450.83,276.80 451.88,276.80 452.94,276.80 453.99,276.80 455.04,276.80 456.10,276.80 457.15,276.80 458.20,276.80 459.26,276.80 460.31,276.80 461.37,276.80 462.42,276.80 463.47,276.80 464.53,276.80 465.58,276.80 466.63,276.80 467.69,276.80 468.74,276.80 469.80,276.80 470.85,276.79 471.90,276.79 472.96,276.79 474.01,276.78 475.07,276.78 476.12,276.77 477.17,276.75 478.23,276.73 479.28,276.70 480.33,276.66 481.39,276.61 482.44,276.54 483.50,276.44 484.55,276.32 485.60,276.15 486.66,275.94 487.71,275.66 488.76,275.32 489.82,274.89 490.87,274.36 491.93,273.70 492.98,272.91 494.03,271.95 495.09,270.80 496.14,269.44 497.19,267.84 498.25,265.97 499.30,263.80 500.36,261.32 501.41,258.51 502.46,255.37 503.52,251.90 504.57,248.11 505.62,244.06 506.68,239.79 507.73,235.36 508.79,230.86 509.84,226.37 510.89,221.96 511.95,217.72 513.00,213.70 514.06,209.96 515.11,206.53 516.16,203.43 517.22,200.66 518.27,198.21 519.32,196.08 520.38,194.22 521.43,192.63 522.49,191.27 523.54,190.11 524.59,189.13 525.65,188.31 526.70,187.62 527.75,187.04 528.81,186.56 529.86,186.15 530.92,185.82 531.97,185.54 533.02,185.31 534.08,185.12 535.13,184.96 536.18,184.83 537.24,184.72 538.29,184.63 539.35,184.55 540.40,184.49" fill="none" stroke="#222222" stroke-width="1.5" stroke-linejoin="round"/>
<polyline points="401.30,276.34 402.35,276.24 403.41,276.12 404.46,275.98 405.52,275.81 406.57,275.60 407.62,275.36 408.68,275.06 409.73,274.69 410.78,274.26 411.84,273.74 412.89,273.12 413.95,272.38 415.00,271.50 416.05,270.45 417.11,269.22 418.16,267.78 419.21,266.09 420.27,264.13 421.32,261.88 422.38,259.32 423.43,256.44 424.48,253.23 425.54,249.70 426.59,245.88 427.64,241.82 428.70,237.55 429.75,233.16 430.81,228.73 431.86,224.32 432.91,220.03 433.97,215.91 435.02,212.04 436.07,208.46 437.13,205.18 438.18,202.24 439.24,199.62 440.29,197.31 441.34,195.30 442.40,193.57 443.45,192.08 444.51,190.82 445.56,189.75 446.61,188.85 447.67,188.10 448.72,187.47 449.77,186.95 450.83,186.53 451.88,186.19 452.94,185.92 453.99,185.71 455.04,185.55 456.10,185.44 457.15,185.38 458.20,185.35 459.26,185.38 460.31,185.44 461.37,185.55 462.42,185.71 463.47,185.92 464.53,186.19 465.58,186.53 466.63,186.95 467.69,187.47 468.74,188.10 469.80,188.85 470.85,189.75 471.90,190.82 472.96,192.09 474.01,193.58 475.07,195.32 476.12,197.34 477.17,199.66 478.23,202.29 479.28,205.26 480.33,208.56 481.39,212.18 482.44,216.09 483.50,220.24 484.55,224.59 485.60,229.06 486.66,233.57 487.71,238.03 488.76,242.38 489.82,246.52 490.87,250.42 491.93,254.02 492.98,257.30 494.03,260.24 495.09,262.85 496.14,265.14 497.19,267.12 498.25,268.83 499.30,270.29 500.36,271.52 501.41,272.55 502.46,273.40 503.52,274.11 504.57,274.69 505.62,275.16 506.68,275.54 507.73,275.84 508.79,276.07 509.84,276.26 510.89,276.40 511.95,276.50 513.00,276.58 514.06,276.64 515.11,276.69 516.16,276.72 517.22,276.74 518.27,276.76 519.32,276.77 520.38,276.78 521.43,276.79 522.49,276.79 523.54,276.79 524.59,276.80 525.65,276.80 526.70,276.80 527.75,276.80 528.81,276.80 529.86,276.80 530.92,276.80 531.97,276.80 533.02,276.80 534.08,276.80 535.13,276.80 536.18,276.80 537.24,276.80 538.29,276.80 539.35,276.80 540.40,276.80" fill="none" stroke="#2456e8" stroke-width="1.5" stroke-linejoin="round"/>
<polyline points="401.30,276.80 402.35,276.80 403.41,276.80 404.46,276.80 405.52,276.80 406.57,276.80 407.62,276.80 408.68,276.80 409.73,276.80 410.78,276.80 411.84,276.80 412.89,276.80 413.95,276.80 415.00,276.80 416.05,276.80 417.11,276.80 418.16,276.80 419.21,276.80 420.27,276.80 421.32,276.80 422.38,276.80 423.43,276.80 424.48,276.80 425.54,276.80 426.59,276.80 427.64,276.80 428.70,276.80 429.75,276.80 430.81,276.80 431.86,276.80 432.91,276.80 433.97,276.80 435.02,276.79 436.07,276.79 437.13,276.79 438.18,276.79 439.24,276.78 440.29,276.78 441.34,276.78 442.40,276.77 443.45,276.76 444.51,276.76 445.56,276.75 446.61,276.73 447.67,276.72 448.72,276.70 449.77,276.68 450.83,276.65 451.88,276.62 452.94,276.58 453.99,276.53 455.04,276.48 456.10,276.41 457.15,276.32 458.20,276.22 459.26,276.10 460.31,275.95 461.37,275.78 462.42,275.56 463.47,275.30 464.53,274.99 465.58,274.62 466.63,274.17 467.69,273.63 468.74,272.99 469.80,272.22 470.85,271.31 471.90,270.23 472.96,268.96 474.01,267.46 475.07,265.72 476.12,263.71 477.17,261.41 478.23,258.79 479.28,255.85 480.33,252.59 481.39,249.02 482.44,245.18 483.50,241.12 484.55,236.89 485.60,232.59 486.66,228.29 487.71,224.10 488.76,220.11 489.82,216.39 490.87,213.03 491.93,210.08 492.98,207.60 494.03,205.61 495.09,204.15 496.14,203.22 497.19,202.84 498.25,203.00 499.30,203.71 500.36,204.96 501.41,206.74 502.46,209.03 503.52,211.79 504.57,215.00 505.62,218.58 506.68,222.47 507.73,226.60 508.79,230.86 509.84,235.17 510.89,239.44 511.95,243.58 513.00,247.51 514.06,251.19 515.11,254.58 516.16,257.65 517.22,260.40 518.27,262.83 519.32,264.95 520.38,266.80 521.43,268.38 522.49,269.74 523.54,270.89 524.59,271.87 525.65,272.69 526.70,273.38 527.75,273.96 528.81,274.44 529.86,274.85 530.92,275.18 531.97,275.46 533.02,275.69 534.08,275.88 535.13,276.04 536.18,276.17 537.24,276.28 538.29,276.37 539.35,276.45 540.40,276.51" fill="none" stroke="#ff2020" stroke-width="1.5" stroke-linejoin="round"/>
<polyline points="401.30,184.66 402.35,184.76 403.41,184.88 404.46,185.02 405.52,185.19 406.57,185.40 407.62,185.64 408.68,185.94 409.73,186.31 410.78,186.74 411.84,187.26 412.89,187.88 413.95,188.62 415.00,189.50 416.05,190.55 417.11,191.78 418.16,193.22 419.21,194.91 420.27,196.87 421.32,199.12 422.38,201.68 423.43,204.56 424.48,207.77 425.54,211.30 426.59,215.12 427.64,219.18 428.70,223.45 429.75,227.84 430.81,232.28 431.86,236.68 432.91,240.98 433.97,245.09 435.02,248.96 436.07,252.55 437.13,255.83 438.18,258.78 439.24,261.40 440.29,263.71 441.34,265.72 442.40,267.46 443.45,268.95 444.51,270.23 445.56,271.31 446.61,272.22 447.67,272.99 448.72,273.63 449.77,274.17 450.83,274.62 451.88,274.99 452.94,275.30 453.99,275.56 455.04,275.78 456.10,275.95 457.15,276.10 458.20,276.22 459.26,276.32 460.31,276.41 461.37,276.48 462.42,276.53 463.47,276.58 464.53,276.62 465.58,276.65 466.63,276.68 467.69,276.70 468.74,276.72 469.80,276.73 470.85,276.75 471.90,276.76 472.96,276.76 474.01,276.77 475.07,276.78 476.12,276.78 477.17,276.78 478.23,276.79 479.28,276.79 480.33,276.79 481.39,276.79 482.44,276.80 483.50,276.80 484.55,276.80 485.60,276.80 486.66,276.80 487.71,276.80 488.76,276.80 489.82,276.80 490.87,276.80 491.93,276.80 492.98,276.80 494.03,276.80 495.09,276.80 496.14,276.80 497.19,276.80 498.25,276.80 499.30,276.80 500.36,276.80 501.41,276.80 502.46,276.80 503.52,276.80 504.57,276.80 505.62,276.80 506.68,276.80 507.73,276.80 508.79,276.80 509.84,276.80 510.89,276.80 511.95,276.80 513.00,276.80 514.06,276.80 515.11,276.80 516.16,276.80 517.22,276.80 518.27,276.80 519.32,276.80 520.38,276.80 521.43,276.80 522.49,276.80 523.54,276.80 524.59,276.80 525.65,276.80 526.70,276.80 527.75,276.80 528.81,276.80 529.86,276.80 530.92,276.80 531.97,276.80 533.02,276.80 534.08,276.80 535.13,276.80 536.18,276.80 537.24,276.80 538.29,276.80 539.35,276.80 540.40,276.80" fill="none" stroke="#ff2fd0" stroke-width="1.5" stroke-linejoin="round"/>
<rect x="401.30" y="173.60" width="139.10" height="108.30" fill="none" stroke="#2a2a2a" stroke-width="1.15"/>
<line x1="399.30" y1="276.80" x2="401.30" y2="276.80" stroke="#2a2a2a" stroke-width="1.15" />
<text x="398.00" y="278.00" font-size="6.2" text-anchor="end" fill="#30425a" font-weight="bold" stroke="#30425a" stroke-width="0.3" >0.0</text>
<line x1="399.30" y1="258.28" x2="401.30" y2="258.28" stroke="#2a2a2a" stroke-width="1.15" />
<text x="398.00" y="259.48" font-size="6.2" text-anchor="end" fill="#30425a" font-weight="bold" stroke="#30425a" stroke-width="0.3" >0.2</text>
<line x1="399.30" y1="239.76" x2="401.30" y2="239.76" stroke="#2a2a2a" stroke-width="1.15" />
<text x="398.00" y="240.96" font-size="6.2" text-anchor="end" fill="#30425a" font-weight="bold" stroke="#30425a" stroke-width="0.3" >0.4</text>
<line x1="399.30" y1="221.24" x2="401.30" y2="221.24" stroke="#2a2a2a" stroke-width="1.15" />
<text x="398.00" y="222.44" font-size="6.2" text-anchor="end" fill="#30425a" font-weight="bold" stroke="#30425a" stroke-width="0.3" >0.6</text>
<line x1="399.30" y1="202.72" x2="401.30" y2="202.72" stroke="#2a2a2a" stroke-width="1.15" />
<text x="398.00" y="203.92" font-size="6.2" text-anchor="end" fill="#30425a" font-weight="bold" stroke="#30425a" stroke-width="0.3" >0.8</text>
<line x1="399.30" y1="184.20" x2="401.30" y2="184.20" stroke="#2a2a2a" stroke-width="1.15" />
<text x="398.00" y="185.40" font-size="6.2" text-anchor="end" fill="#30425a" font-weight="bold" stroke="#30425a" stroke-width="0.3" >1.0</text>
<line x1="400.10" y1="267.54" x2="401.30" y2="267.54" stroke="#2a2a2a" stroke-width="1.15" />
<line x1="400.10" y1="249.02" x2="401.30" y2="249.02" stroke="#2a2a2a" stroke-width="1.15" />
<line x1="400.10" y1="230.50" x2="401.30" y2="230.50" stroke="#2a2a2a" stroke-width="1.15" />
<line x1="400.10" y1="211.98" x2="401.30" y2="211.98" stroke="#2a2a2a" stroke-width="1.15" />
<line x1="400.10" y1="193.46" x2="401.30" y2="193.46" stroke="#2a2a2a" stroke-width="1.15" />
<line x1="413.95" y1="281.90" x2="413.95" y2="283.90" stroke="#2a2a2a" stroke-width="1.15" />
<text x="413.95" y="290.80" font-size="6.2" text-anchor="middle" fill="#30425a" font-weight="bold" stroke="#30425a" stroke-width="0.2" >2</text>
<line x1="439.24" y1="281.90" x2="439.24" y2="283.90" stroke="#2a2a2a" stroke-width="1.15" />
<text x="439.24" y="290.80" font-size="6.2" text-anchor="middle" fill="#30425a" font-weight="bold" stroke="#30425a" stroke-width="0.2" >4</text>
<line x1="464.53" y1="281.90" x2="464.53" y2="283.90" stroke="#2a2a2a" stroke-width="1.15" />
<text x="464.53" y="290.80" font-size="6.2" text-anchor="middle" fill="#30425a" font-weight="bold" stroke="#30425a" stroke-width="0.2" >6</text>
<line x1="489.82" y1="281.90" x2="489.82" y2="283.90" stroke="#2a2a2a" stroke-width="1.15" />
<text x="489.82" y="290.80" font-size="6.2" text-anchor="middle" fill="#30425a" font-weight="bold" stroke="#30425a" stroke-width="0.2" >8</text>
<line x1="515.11" y1="281.90" x2="515.11" y2="283.90" stroke="#2a2a2a" stroke-width="1.15" />
<text x="515.11" y="290.80" font-size="6.2" text-anchor="middle" fill="#30425a" font-weight="bold" stroke="#30425a" stroke-width="0.2" >10</text>
<line x1="540.40" y1="281.90" x2="540.40" y2="283.90" stroke="#2a2a2a" stroke-width="1.15" />
<text x="540.40" y="290.80" font-size="6.2" text-anchor="middle" fill="#30425a" font-weight="bold" stroke="#30425a" stroke-width="0.2" >12</text>
<line x1="426.59" y1="281.90" x2="426.59" y2="283.10" stroke="#2a2a2a" stroke-width="1.15" />
<line x1="451.88" y1="281.90" x2="451.88" y2="283.10" stroke="#2a2a2a" stroke-width="1.15" />
<line x1="477.17" y1="281.90" x2="477.17" y2="283.10" stroke="#2a2a2a" stroke-width="1.15" />
<line x1="502.46" y1="281.90" x2="502.46" y2="283.10" stroke="#2a2a2a" stroke-width="1.15" />
<line x1="527.75" y1="281.90" x2="527.75" y2="283.10" stroke="#2a2a2a" stroke-width="1.15" />
<text x="373.20" y="185.90" font-size="12.5" text-anchor="start" fill="#151515" font-weight="bold" stroke="#151515" stroke-width="0.35" >(e)</text>
<text x="471.10" y="296.30" font-size="6.8" text-anchor="middle" fill="#30425a" font-weight="bold" stroke="#30425a" stroke-width="0.2" >pH</text>
<text transform="translate(383.2,228.2) rotate(-90)" font-size="7.5" text-anchor="middle" font-weight="bold" font-style="italic" fill="#222" stroke="#222" stroke-width="0.3">δ</text>
<text x="406.9" y="228.8" font-size="6.2" font-weight="bold" fill="#222" stroke="#222" stroke-width="0.3">TCH<tspan font-size="3.8" dy="1.9">3</tspan><tspan font-size="3.8" dx="0.8" dy="-5.3">+</tspan></text>
<text x="449" y="228.8" font-size="6.2" font-weight="bold" fill="#222" stroke="#222" stroke-width="0.3">TCH<tspan font-size="3.8" dy="1.9">2</tspan><tspan font-size="3.8" dx="0.8" dy="-5.3">0</tspan></text>
<text x="490.4" y="228.8" font-size="6.2" font-weight="bold" fill="#222" stroke="#222" stroke-width="0.3">TCH<tspan font-size="4" dx="0.3" dy="-3">-</tspan></text>
<text x="517.8" y="228.8" font-size="6.2" font-weight="bold" fill="#222" stroke="#222" stroke-width="0.3">TC<tspan font-size="3.8" dx="0.3" dy="-3.2">2-</tspan></text>
</svg>
</body></html>
